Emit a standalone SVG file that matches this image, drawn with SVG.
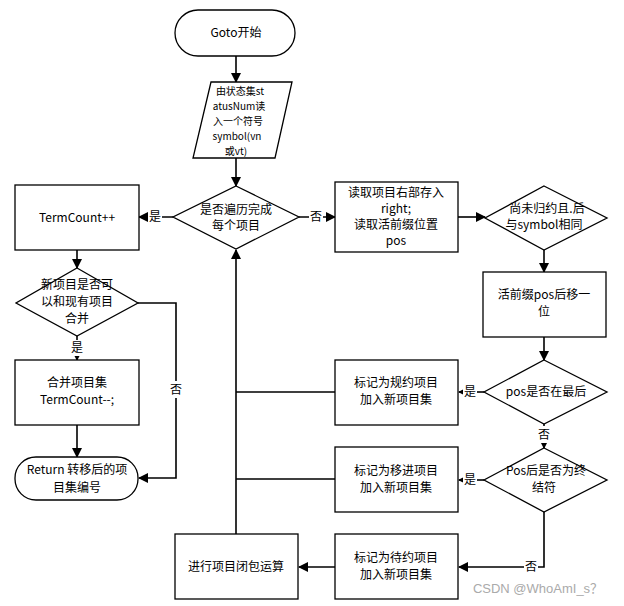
<svg xmlns="http://www.w3.org/2000/svg" width="624" height="606" viewBox="0 0 624 606">
<defs>
<marker id="a" markerWidth="10" markerHeight="10" refX="9" refY="5" orient="auto" markerUnits="userSpaceOnUse"><path d="M0,0 L10,5 L0,10 Z" fill="#000"/></marker>
<style>
.s{fill:#fff;stroke:#000;stroke-width:1.3}
.c{fill:none;stroke:#000;stroke-width:1.6}
text{font-family:"Noto Sans CJK SC","Liberation Sans",sans-serif;font-size:12px;text-anchor:middle;fill:#000}
.p{font-size:10px}
.l{fill:#fff}
</style>
</defs>
<rect width="624" height="606" fill="#fff"/>
<g id="connectors">
<path class="c" d="M236,56 V82" marker-end="url(#a)"/>
<path class="c" d="M236,158 V186" marker-end="url(#a)"/>
<path class="c" d="M173,217 H139" marker-end="url(#a)"/>
<path class="c" d="M299,217 H335" marker-end="url(#a)"/>
<path class="c" d="M77,250 V268" marker-end="url(#a)"/>
<path class="c" d="M77,336 V360" marker-end="url(#a)"/>
<path class="c" d="M77,425 V457" marker-end="url(#a)"/>
<path class="c" d="M138,303 H176 V478 H139" marker-end="url(#a)"/>
<path class="c" d="M458,217 H485" marker-end="url(#a)"/>
<path class="c" d="M544,250 V272" marker-end="url(#a)"/>
<path class="c" d="M544,337 V360" marker-end="url(#a)"/>
<path class="c" d="M544,424 V448" marker-end="url(#a)"/>
<path class="c" d="M484,392 H459" marker-end="url(#a)"/>
<path class="c" d="M484,480 H459" marker-end="url(#a)"/>
<path class="c" d="M544,512 V567 H459" marker-end="url(#a)"/>
<path class="c" d="M335,567 H299" marker-end="url(#a)"/>
<path class="c" d="M236,534 V250" marker-end="url(#a)"/>
<path class="c" d="M335,392 H236 M335,479 H236"/>
<rect class="l" x="148" y="208" width="14" height="17"/><text x="155" y="221">是</text>
<rect class="l" x="309" y="208" width="14" height="17"/><text x="316" y="221">否</text>
<rect class="l" x="70" y="340" width="14" height="16"/><text x="77" y="352">是</text>
<rect class="l" x="169" y="381" width="14" height="17"/><text x="176" y="394">否</text>
<rect class="l" x="463" y="383" width="14" height="17"/><text x="470" y="396">是</text>
<rect class="l" x="463" y="471" width="14" height="17"/><text x="470" y="484">是</text>
<rect class="l" x="537" y="426" width="14" height="17"/><text x="544" y="439">否</text>
<rect class="l" x="524" y="558" width="14" height="17"/><text x="531" y="571">否</text>
</g>
<g id="start"><rect class="s" x="175" y="10" width="120" height="46" rx="23"/><text x="236" y="37">Goto开始</text></g>
<g id="read"><path class="s" d="M211,82 H292 L275,158 H193 Z"/>
<text class="p" x="240" y="95">由状态集st</text><text class="p" x="239" y="110">atusNum读</text><text class="p" x="238" y="125">入一个符号</text><text class="p" x="237" y="140">symbol(vn</text><text class="p" x="236" y="155">或vt)</text></g>
<g id="d1"><path class="s" d="M236,186 L299,217 L236,249 L173,217 Z"/><text x="236" y="214">是否遍历完成</text><text x="236" y="230">每个项目</text></g>
<g id="tc"><rect class="s" x="15" y="185" width="124" height="65"/><text x="77" y="222">TermCount++</text></g>
<g id="d2"><path class="s" d="M77,268 L138,303 L77,336 L16,303 Z"/><text x="77" y="289">新项目是否可</text><text x="77" y="306">以和现有项目</text><text x="77" y="323">合并</text></g>
<g id="merge"><rect class="s" x="15" y="360" width="124" height="65"/><text x="77" y="387">合并项目集</text><text x="77" y="404">TermCount--;</text></g>
<g id="ret"><rect class="s" x="15" y="457" width="123" height="43" rx="21"/><text x="77" y="474">Return 转移后的项</text><text x="77" y="492">目集编号</text></g>
<g id="rd"><rect class="s" x="335" y="182" width="123" height="70"/><text x="396" y="197">读取项目右部存入</text><text x="396" y="213">right;</text><text x="396" y="229">读取活前缀位置</text><text x="396" y="245">pos</text></g>
<g id="d3"><path class="s" d="M544,186 L607,218 L544,250 L485,218 Z"/><text x="547" y="213">尚未归约且.后</text><text x="544" y="229">与symbol相同</text></g>
<g id="mv"><rect class="s" x="483" y="272" width="123" height="65"/><text x="544" y="299">活前缀pos后移一</text><text x="544" y="316">位</text></g>
<g id="d4"><path class="s" d="M544,360 L607,392 L544,424 L484,392 Z"/><text x="546" y="396">pos是否在最后</text></g>
<g id="d5"><path class="s" d="M544,448 L607,480 L544,512 L484,480 Z"/><text x="546" y="475">Pos后是否为终</text><text x="544" y="492">结符</text></g>
<g id="b1"><rect class="s" x="335" y="360" width="123" height="65"/><text x="396" y="387">标记为规约项目</text><text x="396" y="404">加入新项目集</text></g>
<g id="b2"><rect class="s" x="335" y="447" width="123" height="65"/><text x="396" y="475">标记为移进项目</text><text x="396" y="492">加入新项目集</text></g>
<g id="b3"><rect class="s" x="335" y="534" width="123" height="65"/><text x="396" y="562">标记为待约项目</text><text x="396" y="579">加入新项目集</text></g>
<g id="cl"><rect class="s" x="175" y="534" width="123" height="65"/><text x="236" y="571">进行项目闭包运算</text></g>
<text x="538" y="593" style="font-size:13px;fill:#aaa;font-family:'Liberation Sans','Noto Sans CJK SC',sans-serif">CSDN @WhoAmI_s？</text>
</svg>
